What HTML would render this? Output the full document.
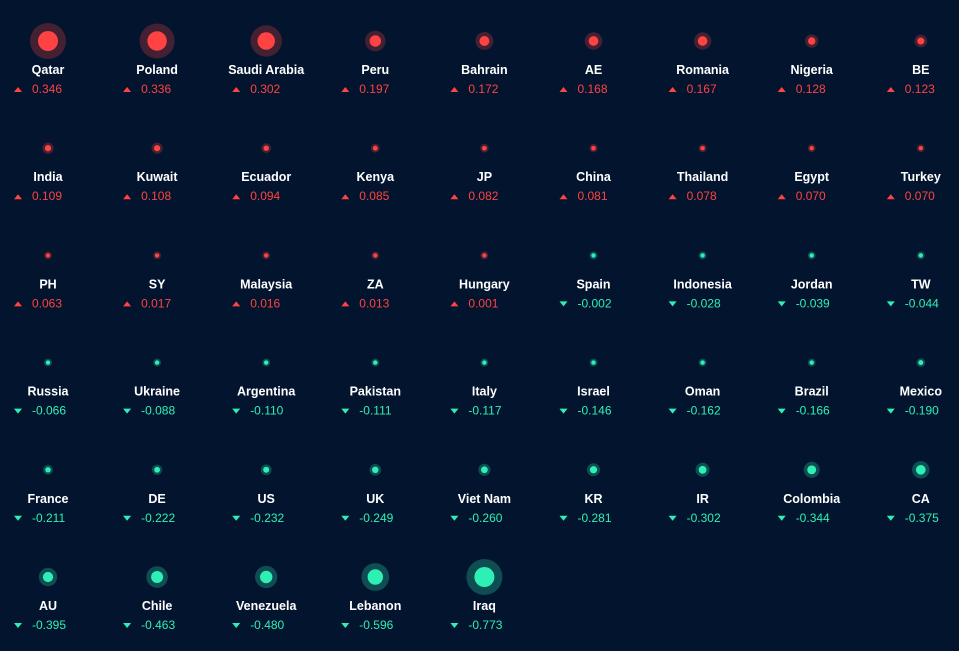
<!DOCTYPE html>
<html><head><meta charset="utf-8">
<style>
html,body{margin:0;padding:0;background:#03152e;}
svg{display:block;}
text{font-family:"Liberation Sans",sans-serif;}
</style></head>
<body>
<svg id="chart" width="959" height="651"></svg>
<script>
const countries = ["Qatar","Poland","Saudi Arabia","Peru","Bahrain","AE","Romania","Nigeria","BE",
"India","Kuwait","Ecuador","Kenya","JP","China","Thailand","Egypt","Turkey",
"PH","SY","Malaysia","ZA","Hungary","Spain","Indonesia","Jordan","TW",
"Russia","Ukraine","Argentina","Pakistan","Italy","Israel","Oman","Brazil","Mexico",
"France","DE","US","UK","Viet Nam","KR","IR","Colombia","CA",
"AU","Chile","Venezuela","Lebanon","Iraq"];
const values = [0.346,0.336,0.302,0.197,0.172,0.168,0.167,0.128,0.123,
0.109,0.108,0.094,0.085,0.082,0.081,0.078,0.070,0.070,
0.063,0.017,0.016,0.013,0.001,-0.002,-0.028,-0.039,-0.044,
-0.066,-0.088,-0.110,-0.111,-0.117,-0.146,-0.162,-0.166,-0.190,
-0.211,-0.222,-0.232,-0.249,-0.260,-0.281,-0.302,-0.344,-0.375,
-0.395,-0.463,-0.480,-0.596,-0.773];

const svg = document.getElementById('chart');
const NS = 'http://www.w3.org/2000/svg';
const cols = 9, x0 = 48, dx = 109.1, y0 = 41, dy = 107.2;
const maxPos = Math.max(...values.filter(v=>v>0));
const maxNeg = Math.max(...values.filter(v=>v<0).map(v=>-v));
function rScale(v){
  const m = v >= 0 ? maxPos : maxNeg;
  return Math.max(2.2, 10 * Math.abs(v) / m);
}
function mk(tag, attrs){
  const e = document.createElementNS(NS, tag);
  for (const k in attrs) e.setAttribute(k, attrs[k]);
  return e;
}
countries.forEach((name, i) => {
  const v = values[i];
  const cx = x0 + (i % cols) * dx;
  const cy = y0 + Math.floor(i / cols) * dy;
  const up = v >= 0;
  const col = up ? '#ff4242' : '#2ff0b4';
  const halo = up ? 'rgba(255,66,66,0.26)' : 'rgba(47,240,180,0.26)';
  const g = mk('g', {});
  
  
  const r = rScale(v);
  const h = mk('circle', {cx, cy, r: r * 1.8, fill: halo});
  
  
  const c = mk('circle', {cx, cy, r, fill: col});
  
  
  const t = mk('text', {x: cx, y: cy + 33, 'text-anchor': 'middle', fill: '#ffffff', 'font-size': 12.5, 'font-weight': 'bold'});
  t.textContent = name;
  
  
  const ty = cy + 48;
  const tri = mk('path', {d: up ? `M${cx-34},${ty+3} L${cx-30},${ty-2} L${cx-26},${ty+3} Z` : `M${cx-34},${ty-2} L${cx-30},${ty+3} L${cx-26},${ty-2} Z`, fill: col});
  
  
  const vt = mk('text', {x: cx - 16, y: cy + 52, fill: col, 'font-size': 12});
  vt.textContent = v.toFixed(3);
  
  
  g.append(h, c, t, tri, vt);
  svg.appendChild(g);
});
</script>
</body></html>
